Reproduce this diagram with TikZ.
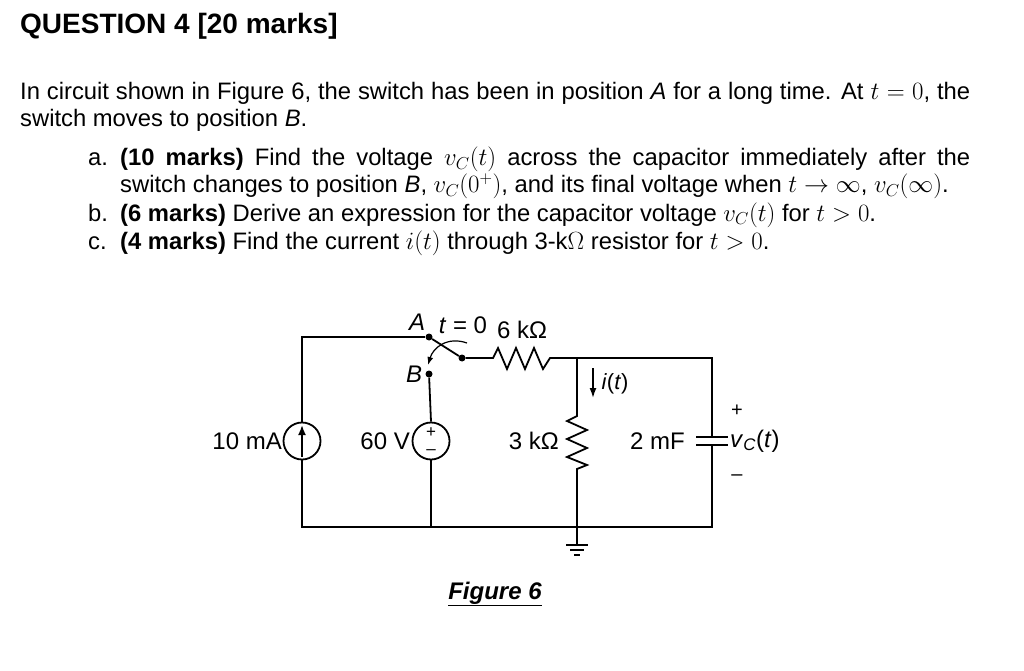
\documentclass[tikz,border=0pt]{standalone}
\usepackage{fontspec}
\setmainfont{Liberation Sans}
\usetikzlibrary{arrows.meta}
\begin{document}
\begin{tikzpicture}[x=1pt,y=-1pt,
  w/.style={line width=1.8pt},
  dot/.style={circle,fill,inner sep=0pt,minimum size=7pt},
  lbl/.style={font=\fontsize{24}{26}\selectfont,inner sep=1pt},
  txt/.style={font=\fontsize{23.8}{26}\selectfont,anchor=base west,inner sep=0pt}]
\useasboundingbox (0,0) rectangle (1024,671);
\node[txt,font=\fontsize{28}{30}\selectfont\bfseries] (title) at (20,34) {QUESTION 4 [20 marks]};
\node[txt] (p1) at (20,100) {\hbox to 950pt{In circuit shown in Figure 6, the switch has been in position \textit{A} for a long time. At $t=0$, the}};
\node[txt] (p2) at (20,127) {switch moves to position \textit{B}.};
\node[txt] (ia) at (88,166) {a.};
\node[txt] (a1) at (120,166) {\hbox to 850pt{\textbf{(10 marks)} Find the voltage $v_C(t)$ across the capacitor immediately after the}};
\node[txt] (a2) at (120,193) {switch changes to position \textit{B}, $v_C(0^+)$, and its final voltage when $t\to\infty$, $v_C(\infty)$.};
\node[txt] (ib) at (88,221) {b.};
\node[txt] (b1) at (120,221) {\textbf{(6 marks)} Derive an expression for the capacitor voltage $v_C(t)$ for $t>0$.};
\node[txt] (ic) at (88,249) {c.};
\node[txt] (c1) at (120,249) {\textbf{(4 marks)} Find the current $i(t)$ through 3-k$\Omega$ resistor for $t>0$.};
% nodes
\node[dot] (A) at (429,337) {};
\node[dot] (B) at (429,374) {};
\node[dot] (P) at (462,358) {};
\node[circle,draw,w,minimum size=37pt,inner sep=0pt] (I) at (302,441) {};
\node[circle,draw,w,minimum size=37pt,inner sep=0pt] (V) at (431,441) {};
\coordinate (TL) at (302,337);
\coordinate (BL) at (302,527);
\coordinate (BV) at (431,527);
\coordinate (J) at (577,358);
\coordinate (BR) at (577,527);
\coordinate (TR) at (712,358);
\coordinate (BRR) at (712,527);
\coordinate (G) at (577,545);
% wires
\draw[w] (I.south) -- (BL) -- (BRR) -- (712,445);
\draw[w] (I.north) -- (TL) -- (A);
\draw[w] (B) -- (V.north);
\draw[w] (V.south) -- (BV);
\draw[w] (A) -- (P);
\draw[w] (P) -- (493,358) -- (498,348) -- (507,369) -- (516,348) -- (525,369) -- (534,348) -- (543,369) -- (550,358) -- (J) -- (TR) -- (712,437);
\draw[w] (J) -- (577,416) -- (567,421) -- (587,430) -- (567,439) -- (587,448) -- (567,457) -- (587,465) -- (577,469) -- (BR) -- (G);
\draw[w] (696,437) -- (728,437);
\draw[w] (696,445) -- (728,445);
\draw[w] (566,545) -- (588,545) (570,550) -- (584,550) (574,555) -- (580,555);
\draw[w,-{Latex[length=10pt,width=8pt]}] (302,457) -- (302,425);
\draw[line width=1.2pt,-{Latex[length=8pt,width=6pt]}] (467,343) .. controls (447,336) and (433,348) .. (428,365);
\draw[line width=1.6pt,-{Latex[length=10pt,width=7pt]}] (593,368) -- (593,398);
\node[lbl,font=\fontsize{17}{17}\selectfont,inner sep=0pt] (vp) at (431,433) {+};
\node[lbl,font=\fontsize{17}{17}\selectfont,inner sep=0pt] (vm) at (431,452) {–};
% labels
\node[lbl,font=\fontsize{24}{26}\selectfont\itshape] (lA) at (417,322) {A};
\node[lbl] (lt) at (463,325) {\textit{t} = 0};
\node[lbl] (l6) at (522,330) {6 kΩ};
\node[lbl,font=\fontsize{24}{26}\selectfont\itshape] (lB) at (414,374) {B};
\node[lbl,font=\fontsize{22}{24}\selectfont] (li) at (615,384) {\textit{i}(\textit{t})};
\node[lbl,anchor=east] (l10) at (283,441) {10 mA};
\node[lbl,anchor=east] (l60) at (411,441) {60 V};
\node[lbl,anchor=east] (l3) at (560,441) {3 kΩ};
\node[lbl,anchor=east] (l2) at (686,441) {2 mF};
\node[lbl,anchor=west] (lv) at (729,441) {\textit{v}\textsubscript{\textit{C}}(\textit{t})};
\node[lbl,font=\fontsize{20}{20}\selectfont] (lp) at (737,411) {+};
\node[lbl,font=\fontsize{20}{20}\selectfont] (lm) at (737,478) {–};
\node[lbl,font=\fontsize{24}{26}\selectfont\bfseries\itshape] (fig) at (495,594) {\underline{Figure 6}};
\end{tikzpicture}
\end{document}
